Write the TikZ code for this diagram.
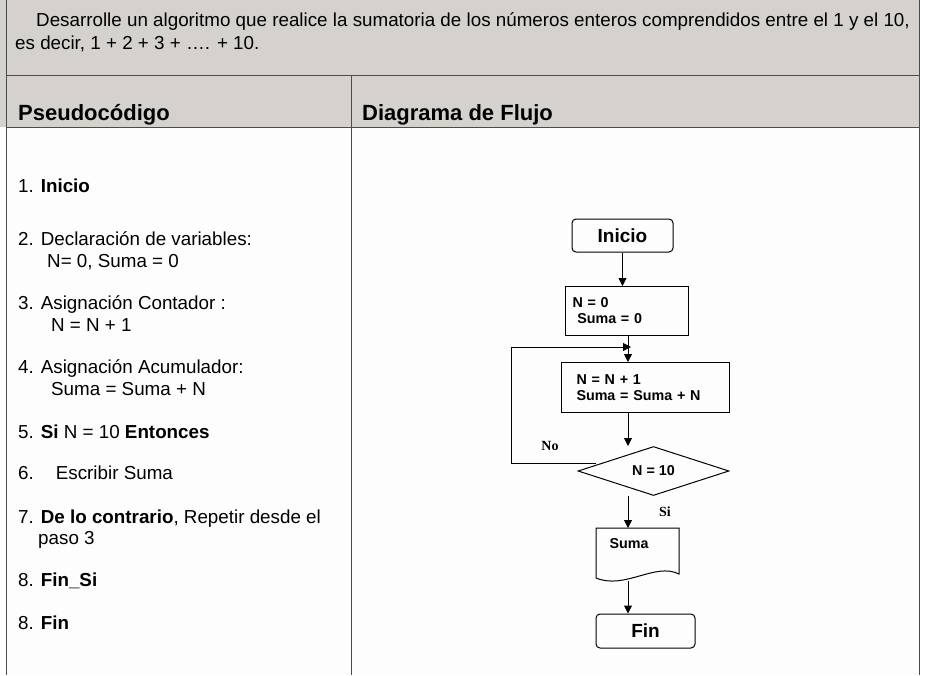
\documentclass[tikz,border=0pt]{standalone}
\usepackage{fontspec}
\setmainfont{Liberation Sans}
\newfontfamily\serifb{Liberation Serif}
\usetikzlibrary{shapes.geometric,arrows.meta}
\definecolor{hdr}{HTML}{D5D2CD}
\definecolor{bodybg}{HTML}{FDFDFD}
\begin{document}
\begin{tikzpicture}[x=1pt,y=-1pt,
  txt/.style={anchor=base west,inner sep=0pt,font=\fontsize{18.8}{22}\selectfont},
  fb/.style={draw,line width=1pt,font=\fontsize{14.3}{16}\selectfont\bfseries},
  arr/.style={-{Triangle[length=8pt,width=8pt]},line width=1pt}]
\useasboundingbox (0,0) rectangle (926,675);
\fill[white] (0,0) rectangle (926,675);
\fill[hdr] (0,0) rectangle (919,127);
\fill[bodybg] (6,127) rectangle (919,675);
\draw[line width=0.8pt,gray!60!black] (6,0) -- (6,675) (919,0) -- (919,675) (6,75) -- (919,75) (6,127) -- (919,127) (351,75) -- (351,675);
% header text
\node[txt] (q1) at (36,26) {Desarrolle un algoritmo que realice la sumatoria de los números enteros comprendidos entre el 1 y el 10,};
\node[txt] (q2) at (15,49) {es decir, 1 + 2 + 3 + …. + 10.};
\node[txt,font=\fontsize{22}{26}\selectfont\bfseries] (h1) at (18,120) {Pseudocódigo};
\node[txt,font=\fontsize{22}{26}\selectfont\bfseries] (h2) at (362,120) {Diagrama de Flujo};
% pseudocode
\node[txt] (p1) at (18,192) {1. \textbf{Inicio}};
\node[txt] (p2) at (18,245) {2. Declaración de variables:};
\node[txt] (p2b) at (47,267) {N= 0, Suma = 0};
\node[txt] (p3) at (18,309) {3. Asignación Contador :};
\node[txt] (p3b) at (51,331) {N = N + 1};
\node[txt] (p4) at (18,373) {4. Asignación Acumulador:};
\node[txt] (p4b) at (51,395) {Suma = Suma + N};
\node[txt] (p5) at (18,438) {5. \textbf{Si} N = 10 \textbf{Entonces}};
\node[txt] (p6) at (18,479) {6.\hspace{22pt}Escribir Suma};
\node[txt] (p7) at (18,523) {7. \textbf{De lo contrario}, Repetir desde el};
\node[txt] (p7b) at (38,544) {paso 3};
\node[txt] (p8) at (18,586) {8. \textbf{Fin\_Si}};
\node[txt] (p9) at (18,629) {8. \textbf{Fin}};
% flowchart
\node[fb,rounded corners=4pt,minimum width=101pt,minimum height=33pt,font=\fontsize{19}{22}\selectfont\bfseries] (ini) at (622.5,235.5) {Inicio};
\node[fb,minimum width=123pt,minimum height=49pt,align=left,anchor=north west,text width=109pt,inner xsep=7pt] (b1) at (565,286) {N = 0\\\ Suma = 0};
\node[fb,minimum width=168pt,minimum height=50pt,align=left,anchor=north west,text width=138pt,inner xsep=15pt] (b2) at (561,362) {N = N + 1\\Suma = Suma + N};
\node[fb,diamond,aspect=3.1,minimum width=151pt,minimum height=49pt,inner sep=0pt] (d) at (653.5,471) {N = 10};
\draw[line width=1pt] (596,528) -- (679,528) -- (679,574) .. controls (655,562) and (625,590) .. (596,578) -- cycle;
\node[font=\fontsize{14.3}{16}\selectfont\bfseries,anchor=north west] (dt) at (606,535) {Suma};
\coordinate (dtop) at (628,528);
\coordinate (dbot) at (628,581);
\node[fb,rounded corners=4pt,minimum width=99pt,minimum height=34pt,font=\fontsize{19}{22}\selectfont\bfseries] (fin) at (645.5,631) {Fin};
\draw[arr] (ini.south) -- (b1.north -| ini.south);
\draw[arr] (b1.south -| 628,0) -- (b2.north -| 628,0);
\draw[arr] (b2.south -| 628,0) -- (d.north -| 628,0);
\draw[arr] (d.south -| 628,0) -- (dtop);
\draw[arr] (dbot) -- (fin.north -| 628,0);
\coordinate (lp) at (596,463);
\draw[line width=1pt] (lp) -- (511,463) -- (511,347);
\draw[arr] (511,347) -- (631,347);
\node[font=\serifb\fontsize{14}{16}\selectfont\bfseries] (no) at (550,446) {No};
\node[font=\serifb\fontsize{14}{16}\selectfont\bfseries] (si) at (665,512) {Si};
\end{tikzpicture}
\end{document}
